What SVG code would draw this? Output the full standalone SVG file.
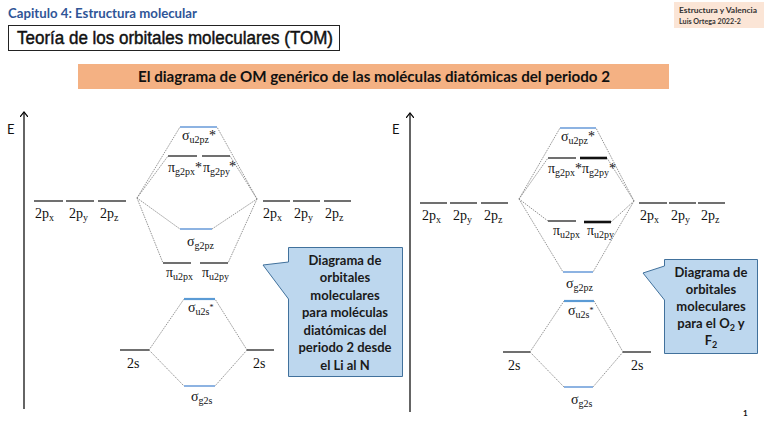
<svg xmlns="http://www.w3.org/2000/svg" width="768" height="433" viewBox="0 0 768 433">
<defs>
<marker id="arr" markerWidth="8" markerHeight="8" refX="4" refY="4" orient="auto" markerUnits="userSpaceOnUse">
<path d="M0,0 L5,4 L0,8" fill="none" stroke="#000" stroke-width="1.2"/>
</marker>
<style>
.cal{font-family:Lato,"Liberation Sans",sans-serif;font-weight:bold}
.orb{font-family:"Liberation Serif",serif;font-size:14px;fill:#111}
.sub{font-size:10px}
.lvl{stroke:#111;stroke-width:1.2}
.lvlb{stroke:#111;stroke-width:2.6}
.blue{stroke:#8DB3E2;stroke-width:2}
.blue2{stroke:#5B9BD5;stroke-width:2.2}
.dot{stroke:#888;stroke-width:0.9;stroke-dasharray:1.5 1;fill:none}
.axis{stroke:#111;stroke-width:1.3}
.co{fill:#BDD7EE;stroke:#41719C;stroke-width:1}
.cot{font-family:Lato,"Liberation Sans",sans-serif;font-weight:bold;font-size:13px;fill:#1a1a1a;text-anchor:middle}
</style>
</defs>
<rect width="768" height="433" fill="#fff"/>

<g id="header">
<text x="8" y="18" class="cal" font-size="13" fill="#2F5597" textLength="189" lengthAdjust="spacingAndGlyphs">Capitulo 4: Estructura molecular</text>
<rect x="8.5" y="25.5" width="331" height="25" fill="#fff" stroke="#222" stroke-width="1"/>
<text x="17" y="44" font-family="Liberation Sans,Arial,sans-serif" font-size="18" fill="#111" stroke="#111" stroke-width="0.45" textLength="316" lengthAdjust="spacingAndGlyphs">Teoría de los orbitales moleculares (TOM)</text>
<rect x="78" y="64" width="591" height="25" fill="#F4B183"/>
<text x="374" y="82" class="cal" font-size="15" fill="#111" text-anchor="middle" textLength="472" lengthAdjust="spacingAndGlyphs">El diagrama de OM genérico de las moléculas diatómicas del periodo 2</text>
<rect x="674" y="2" width="90" height="26" fill="#FBE5D6"/>
<text x="679" y="13" class="cal" font-size="8" fill="#333" textLength="78" lengthAdjust="spacingAndGlyphs">Estructura y Valencia</text>
<text x="679" y="24" class="cal" font-size="8" fill="#333" textLength="62" lengthAdjust="spacingAndGlyphs">Luis Ortega 2022-2</text>
<text x="743" y="416" class="cal" font-size="8" fill="#111">1</text>
</g>

<g id="connectors">
<line x1="137" y1="198" x2="180" y2="127" class="dot"/>
<line x1="137" y1="198" x2="168" y2="156" class="dot"/>
<line x1="257" y1="199" x2="217" y2="127" class="dot"/>
<line x1="257" y1="199" x2="230" y2="156" class="dot"/>
<line x1="137" y1="198" x2="180" y2="229" class="dot"/>
<line x1="257" y1="199" x2="212" y2="229" class="dot"/>
<line x1="137" y1="198" x2="163" y2="263" class="dot"/>
<line x1="257" y1="199" x2="228" y2="263" class="dot"/>
<line x1="149" y1="350" x2="184" y2="299" class="dot"/>
<line x1="247" y1="350" x2="215" y2="299" class="dot"/>
<line x1="149" y1="350" x2="184" y2="386" class="dot"/>
<line x1="247" y1="350" x2="215" y2="386" class="dot"/>
<line x1="519" y1="199" x2="560" y2="128" class="dot"/>
<line x1="519" y1="199" x2="548" y2="158" class="dot"/>
<line x1="634" y1="201" x2="596" y2="128" class="dot"/>
<line x1="634" y1="201" x2="607" y2="158" class="dot"/>
<line x1="519" y1="199" x2="548" y2="221" class="dot"/>
<line x1="634" y1="201" x2="611" y2="222" class="dot"/>
<line x1="519" y1="199" x2="563" y2="272" class="dot"/>
<line x1="634" y1="201" x2="593" y2="272" class="dot"/>
<line x1="530" y1="352" x2="564" y2="301" class="dot"/>
<line x1="623" y1="352" x2="594" y2="301" class="dot"/>
<line x1="530" y1="352" x2="564" y2="387" class="dot"/>
<line x1="623" y1="352" x2="593" y2="387" class="dot"/>
</g>

<g id="axis-left">
<line x1="24" y1="409" x2="24" y2="113" class="axis" marker-end="url(#arr)"/>
<text x="7" y="134" font-family="Lato,Liberation Sans,sans-serif" font-size="13" fill="#111">E</text>
</g>
<g id="axis-right">
<line x1="410" y1="412" x2="410" y2="114" class="axis" marker-end="url(#arr)"/>
<text x="392" y="134" font-family="Lato,Liberation Sans,sans-serif" font-size="13" fill="#111">E</text>
</g>

<g id="L-2p-left">
<line x1="34" y1="201" x2="63" y2="201" class="lvl"/>
<line x1="66" y1="201" x2="94" y2="201" class="lvl"/>
<line x1="98" y1="201" x2="126" y2="201" class="lvl"/>
<text x="35" y="218" class="orb">2p<tspan class="sub" dy="3">x</tspan></text>
<text x="69" y="218" class="orb">2p<tspan class="sub" dy="3">y</tspan></text>
<text x="100" y="218" class="orb">2p<tspan class="sub" dy="3">z</tspan></text>
</g>
<g id="L-2p-right">
<line x1="263" y1="201" x2="290" y2="201" class="lvl"/>
<line x1="293" y1="201" x2="320" y2="201" class="lvl"/>
<line x1="324" y1="201" x2="351" y2="201" class="lvl"/>
<text x="263" y="218" class="orb">2p<tspan class="sub" dy="3">x</tspan></text>
<text x="294" y="218" class="orb">2p<tspan class="sub" dy="3">y</tspan></text>
<text x="325" y="218" class="orb">2p<tspan class="sub" dy="3">z</tspan></text>
</g>
<g id="L-sigma-u2pz">
<line x1="180" y1="127" x2="217" y2="127" class="blue"/>
<text x="182" y="140" class="orb">σ<tspan class="sub" dy="3">u2pz</tspan><tspan dy="-3">*</tspan></text>
</g>
<g id="L-pi-g2p">
<line x1="168" y1="156" x2="197" y2="156" class="lvl"/>
<line x1="202" y1="156" x2="230" y2="156" class="lvl"/>
<text x="168" y="172" class="orb">π<tspan class="sub" dy="3">g2px</tspan><tspan dy="-3">*</tspan></text>
<text x="203" y="172" class="orb">π<tspan class="sub" dy="3">g2py</tspan></text>
<text x="229" y="171" class="orb">*</text>
</g>
<g id="L-sigma-g2pz">
<line x1="180" y1="229" x2="212" y2="229" class="blue"/>
<text x="187" y="246" class="orb">σ<tspan class="sub" dy="3">g2pz</tspan></text>
</g>
<g id="L-pi-u2p">
<line x1="163" y1="263" x2="191" y2="263" class="lvl"/>
<line x1="200" y1="263" x2="228" y2="263" class="lvl"/>
<text x="166" y="277" class="orb">π<tspan class="sub" dy="3">u2px</tspan></text>
<text x="202" y="277" class="orb">π<tspan class="sub" dy="3">u2py</tspan></text>
</g>
<g id="L-sigma-u2s">
<line x1="184" y1="299" x2="215" y2="299" class="blue2"/>
<text x="188" y="312" class="orb">σ<tspan class="sub" dy="3">u2s</tspan><tspan dy="-5" font-size="8">*</tspan></text>
</g>
<g id="L-2s">
<line x1="120" y1="350" x2="149" y2="350" class="lvl"/>
<line x1="247" y1="350" x2="274" y2="350" class="lvl"/>
<text x="127" y="368" class="orb">2s</text>
<text x="253" y="368" class="orb">2s</text>
</g>
<g id="L-sigma-g2s">
<line x1="184" y1="386" x2="215" y2="386" class="blue"/>
<text x="191" y="401" class="orb">σ<tspan class="sub" dy="3">g2s</tspan></text>
</g>

<g id="callout-left">
<path d="M288.5,247.5 H402.5 V376.5 H288.5 V299 L263,265 L288.5,262 Z" class="co"/>
<text class="cot"><tspan x="345" y="265">Diagrama de</tspan><tspan x="345" y="282">orbitales</tspan><tspan x="345" y="299.5">moleculares</tspan><tspan x="345" y="317">para moléculas</tspan><tspan x="345" y="334.5">diatómicas del</tspan><tspan x="345" y="352">periodo 2 desde</tspan><tspan x="345" y="369.5">el Li al N</tspan></text>
</g>

<g id="R-2p-left">
<line x1="420" y1="203" x2="447" y2="203" class="lvl"/>
<line x1="450" y1="203" x2="477" y2="203" class="lvl"/>
<line x1="481" y1="203" x2="508" y2="203" class="lvl"/>
<text x="422" y="220" class="orb">2p<tspan class="sub" dy="3">x</tspan></text>
<text x="453" y="220" class="orb">2p<tspan class="sub" dy="3">y</tspan></text>
<text x="484" y="220" class="orb">2p<tspan class="sub" dy="3">z</tspan></text>
</g>
<g id="R-2p-right">
<line x1="639" y1="203" x2="667" y2="203" class="lvl"/>
<line x1="669" y1="203" x2="696" y2="203" class="lvl"/>
<line x1="698" y1="203" x2="725" y2="203" class="lvl"/>
<text x="640" y="220" class="orb">2p<tspan class="sub" dy="3">x</tspan></text>
<text x="671" y="220" class="orb">2p<tspan class="sub" dy="3">y</tspan></text>
<text x="701" y="220" class="orb">2p<tspan class="sub" dy="3">z</tspan></text>
</g>
<g id="R-sigma-u2pz">
<line x1="560" y1="128" x2="596" y2="128" class="blue"/>
<text x="561" y="141" class="orb">σ<tspan class="sub" dy="3">u2pz</tspan><tspan dy="-3">*</tspan></text>
</g>
<g id="R-pi-g2p">
<line x1="548" y1="158" x2="576" y2="158" class="lvl"/>
<line x1="580" y1="158" x2="607" y2="158" class="lvlb"/>
<text x="548" y="173" class="orb">π<tspan class="sub" dy="3">g2px</tspan><tspan dy="-3">*</tspan></text>
<text x="582" y="173" class="orb">π<tspan class="sub" dy="3">g2py</tspan></text>
<text x="609" y="173" class="orb">*</text>
</g>
<g id="R-pi-u2p">
<line x1="548" y1="221" x2="576" y2="221" class="lvl"/>
<line x1="584" y1="222" x2="611" y2="222" class="lvlb"/>
<text x="553" y="235" class="orb">π<tspan class="sub" dy="3">u2px</tspan></text>
<text x="587" y="235" class="orb">π<tspan class="sub" dy="3">u2py</tspan></text>
</g>
<g id="R-sigma-g2pz">
<line x1="563" y1="272" x2="593" y2="272" class="blue"/>
<text x="566" y="288" class="orb">σ<tspan class="sub" dy="3">g2pz</tspan></text>
</g>
<g id="R-sigma-u2s">
<line x1="564" y1="301" x2="594" y2="301" class="blue2"/>
<text x="568" y="315" class="orb">σ<tspan class="sub" dy="3">u2s</tspan><tspan dy="-5" font-size="8">*</tspan></text>
</g>
<g id="R-2s">
<line x1="503" y1="352" x2="530" y2="352" class="lvl"/>
<line x1="623" y1="352" x2="651" y2="352" class="lvl"/>
<text x="508" y="370" class="orb">2s</text>
<text x="631" y="370" class="orb">2s</text>
</g>
<g id="R-sigma-g2s">
<line x1="564" y1="387" x2="593" y2="387" class="blue"/>
<text x="571" y="404" class="orb">σ<tspan class="sub" dy="3">g2s</tspan></text>
</g>

<g id="callout-right">
<path d="M664.5,259.5 H757.5 V353.5 H664.5 V300 L643,273 L664.5,266 Z" class="co"/>
<text class="cot"><tspan x="711" y="277">Diagrama de</tspan><tspan x="711" y="294">orbitales</tspan><tspan x="711" y="311">moleculares</tspan><tspan x="711" y="328">para el O<tspan font-size="9" dy="3">2</tspan><tspan dy="-3"> y</tspan></tspan><tspan x="711" y="345">F<tspan font-size="9" dy="3">2</tspan></tspan></text>
</g>
</svg>
